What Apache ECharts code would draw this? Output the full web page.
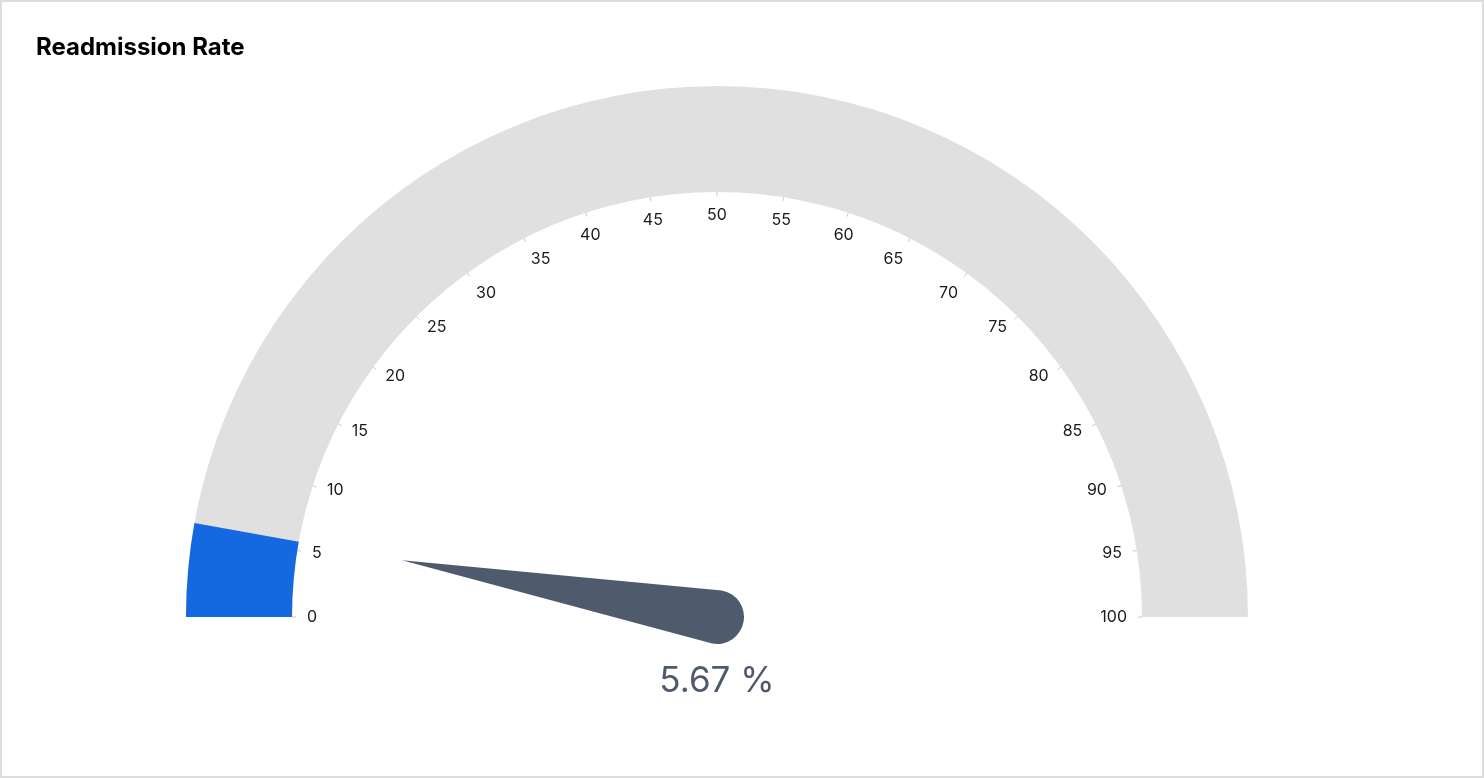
<!DOCTYPE html>
<html>
<head>
<meta charset="utf-8">
<script src="https://cdn.jsdelivr.net/npm/echarts@6/dist/echarts.min.js"></script>
<style>
html,body{margin:0;padding:0;background:#fff;}
#chart{width:1484px;height:778px;box-sizing:border-box;border:2px solid #dddddd;}
</style>
</head>
<body>
<div id="chart"></div>
<script>
const titleText = 'Readmission Rate';
const gaugeValues = [5.67];
const axisMin = 0;
const axisMax = 100;
const axisSplits = 20;
const valueUnit = ' %';

const chart = echarts.init(document.getElementById('chart'), null, {renderer: 'canvas'});
const pointerPath = 'path://M27 0 L54 320 A27 27 0 0 1 0 320 Z';
chart.setOption({
  animation: false,
  title: {
    text: titleText,
    left: 29, top: 29,
    textStyle: {fontFamily: 'Inter', fontSize: 24, fontWeight: 'bold', color: '#000'}
  },
  series: [{
    type: 'gauge',
    center: [715, 615],
    radius: 531,
    startAngle: 180,
    endAngle: 0,
    min: axisMin,
    max: axisMax,
    splitNumber: axisSplits,
    axisLine: {lineStyle: {width: 106, color: [[1, '#e0e0e0']]}},
    progress: {show: true, width: 106, itemStyle: {color: '#1468e0'}},
    axisTick: {show: false},
    splitLine: {show: true, distance: 0, length: 4, lineStyle: {color: '#c8c8c8', width: 1}},
    axisLabel: {show: true, distance: 117, color: '#1a1a1a', fontFamily: 'Inter', fontSize: 16},
    pointer: {
      show: true,
      icon: pointerPath,
      length: 347,
      width: 54,
      offsetCenter: [0, 27],
      itemStyle: {color: '#4f5b6d'}
    },
    anchor: {show: false},
    title: {show: false},
    detail: {
      show: true,
      offsetCenter: [0, 64],
      fontFamily: 'Inter',
      fontSize: 35,
      fontWeight: 'normal',
      color: '#4f5b6d',
      formatter: function (v) { return v.toFixed(2) + valueUnit; }
    },
    data: gaugeValues.map(v => ({value: v}))
  }]
});
</script>
</body>
</html>
